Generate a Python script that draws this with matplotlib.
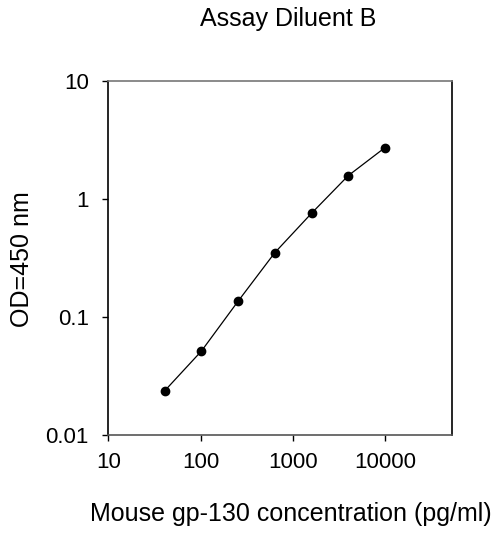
import matplotlib
matplotlib.use("Agg")
import matplotlib.pyplot as plt
from matplotlib.ticker import FixedLocator, FixedFormatter, NullLocator

plt.rcParams["font.family"] = ["Liberation Sans", "DejaVu Sans"]

# standard curve
conc = [40.96, 102.4, 256, 640, 1600, 4000, 10000]
od = [0.0237, 0.0514, 0.136, 0.350, 0.754, 1.57, 2.71]

x_ticks = [10, 100, 1000, 10000]
x_labels = ["10", "100", "1000", "10000"]
y_ticks = [0.01, 0.1, 1, 10]
y_labels = ["0.01", "0.1", "1", "10"]

W, H = 500, 536
fig = plt.figure(figsize=(W / 100, H / 100), dpi=100)
ax = fig.add_axes([108.3 / W, 1 - 435 / H, (451.7 - 108.3) / W, (435 - 80.7) / H])

ax.plot(conc, od, color="black", lw=0.9, marker="o", ms=6, mfc="black", mec="black")

ax.set_xscale("log")
ax.set_yscale("log")
ax.set_xlim(10, 53000)
ax.set_ylim(0.01, 10)

ax.xaxis.set_major_locator(FixedLocator(x_ticks))
ax.xaxis.set_major_formatter(FixedFormatter(x_labels))
ax.xaxis.set_minor_locator(NullLocator())
ax.yaxis.set_major_locator(FixedLocator(y_ticks))
ax.yaxis.set_major_formatter(FixedFormatter(y_labels))
ax.yaxis.set_minor_locator(NullLocator())

ax.tick_params(axis="both", direction="out", length=4, width=1, labelsize=16,
               colors="black", top=False, right=False)
ax.tick_params(axis="x", pad=8)
ax.tick_params(axis="y", pad=10)

for side in ["left", "bottom", "right"]:
    ax.spines[side].set_linewidth(1.2)
    ax.spines[side].set_color("black")
ax.spines["bottom"].set_color("#555555")
ax.spines["top"].set_linewidth(1.2)
ax.spines["top"].set_color("#777777")

fig.text(288 / W, 1 - 19 / H, "Assay Diluent B", ha="center", va="center", fontsize=18)
fig.text(291 / W, 1 - 514 / H, "Mouse gp-130 concentration (pg/ml)",
         ha="center", va="center", fontsize=18)
fig.text(22 / W, 1 - 259 / H, "OD=450 nm", ha="center", va="center",
         rotation=90, fontsize=18)

fig.savefig("out.png", dpi=100)
